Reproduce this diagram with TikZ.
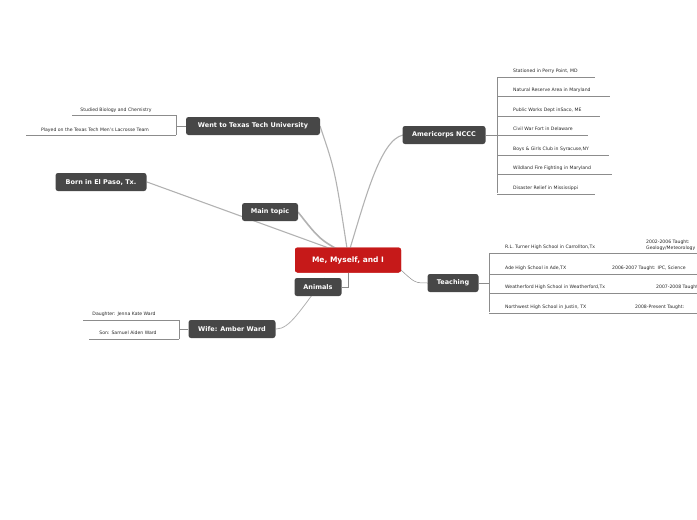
\documentclass[tikz,border=0pt]{standalone}
\usepackage{fontspec}
\setmainfont{DejaVu Sans}
\begin{document}
\begin{tikzpicture}[x=1pt,y=-1pt,
  topic/.style={fill=black!72,text=white,rounded corners=2.5pt,font=\fontsize{6.5}{7}\selectfont\bfseries,minimum height=18pt,inner xsep=7pt,drop shadow/.try},
  leaf/.style={font=\fontsize{4.6}{5.5}\selectfont,text=black!85,inner sep=0pt},
  conn/.style={draw=black!30,line width=1.1pt},
  thin/.style={draw=black!45,line width=0.5pt}]
\useasboundingbox (0,0) rectangle (697,520);
\clip (0,0) rectangle (697,520);
% connectors
\coordinate (cc) at (348,255);
\node[topic,fill=red!75!black!90,minimum height=25pt,minimum width=106pt,font=\fontsize{7.5}{8}\selectfont\bfseries] (c) at (348,260) {Me, Myself, and I};
\draw[conn] (cc) .. controls (335,170) .. (320,126);
\draw[conn] (cc) .. controls (365,200) and (380,140) .. (403,135);
\draw[conn,line width=1.6pt] (cc) .. controls (320,240) .. (298,212);
\draw[conn] (cc) -- (147,182);
\draw[thin] (401,270) .. controls (415,283) .. (428,283);
\draw[conn,line width=0.8pt] (325,278) .. controls (300,310) and (290,329) .. (276,329);
\draw[thin] (348,273) -- (348,287) -- (342,287);
\node[topic,fill=red!75!black!90,minimum height=25pt,minimum width=106pt,font=\fontsize{7.5}{8}\selectfont\bfseries] (c2) at (348,260) {Me, Myself, and I};
\node[topic,minimum width=56pt] (mt) at (270,212) {Main topic};
\node[topic,minimum width=47pt] (an) at (318,287) {Animals};
\node[topic,minimum width=134pt] (tt) at (253,126) {Went to Texas Tech University};
\node[topic,minimum width=91pt] (ep) at (101,182) {Born in El Paso, Tx.};
\node[topic,minimum width=83pt] (am) at (444,135) {Americorps NCCC};
\node[topic,minimum width=51pt] (te) at (453,283) {Teaching};
\node[topic,minimum width=87pt] (wi) at (232,329) {Wife: Amber Ward};
% Americorps
\draw[thin,line width=0.8pt] (am.east) -- (497,135);
\draw[thin] (497,77) -- (497,193);
\foreach \t/\y/\e in {Stationed in Perry Point{,} MD/71/595, Natural Reserve Area in Maryland/90/610, Public Works Dept inSaco{,} ME/110/600, Civil War Fort in Delaware/129/588, Boys \& Girls Club in Syracuse{,}NY/149/609, Wildland Fire Fighting in Maryland/168/612, Disaster Relief in Mississippi/188/595}{
  \node[leaf,anchor=west] at (513,\y) {\t};
  \draw[thin] (497,\y+6) -- (\e,\y+6);
}
% Teaching
\draw[thin,line width=0.8pt] (te.east) -- (489,283);
\draw[thin] (489,253) -- (489,312);
\foreach \t/\y in {R.L. Turner High School in Carrollton{,}Tx/247, Ade High School in Ade{,}TX/268, Weatherford High School in Weatherford{,}Tx/287, Northwest High School in Justin{,} TX/307}{
  \node[leaf,anchor=west] at (505,\y) {\t};
  \draw[thin] (489,\y+6) -- (697,\y+6);
}
\node[leaf,anchor=west,align=left] at (646,245) {2002-2006 Taught:\\Geology/Meteorology};
\node[leaf,anchor=west] at (612,268) {2006-2007 Taught: IPC, Science};
\node[leaf,anchor=west] at (656,287) {2007-2008 Taught:};
\node[leaf,anchor=west] at (635,307) {2008-Present Taught:};
% Texas Tech
\draw[thin,line width=0.8pt] (tt.west) -- (176,126);
\draw[thin] (176,115) -- (176,135);
\node[leaf] at (116,110) {Studied Biology and Chemistry};
\draw[thin] (72,115) -- (176,115);
\node[leaf] at (95,130) {Played on the Texas Tech Men's Lacrosse Team};
\draw[thin] (26,135) -- (176,135);
% Wife
\draw[thin,line width=0.8pt] (wi.west) -- (179,329);
\draw[thin] (179,320) -- (179,339);
\node[leaf] at (124,314) {Daughter: Jenna Kate Ward};
\draw[thin] (83,320) -- (179,320);
\node[leaf] at (128,333) {Son: Samuel Aiden Ward};
\draw[thin] (89,339) -- (179,339);
\end{tikzpicture}
\end{document}
